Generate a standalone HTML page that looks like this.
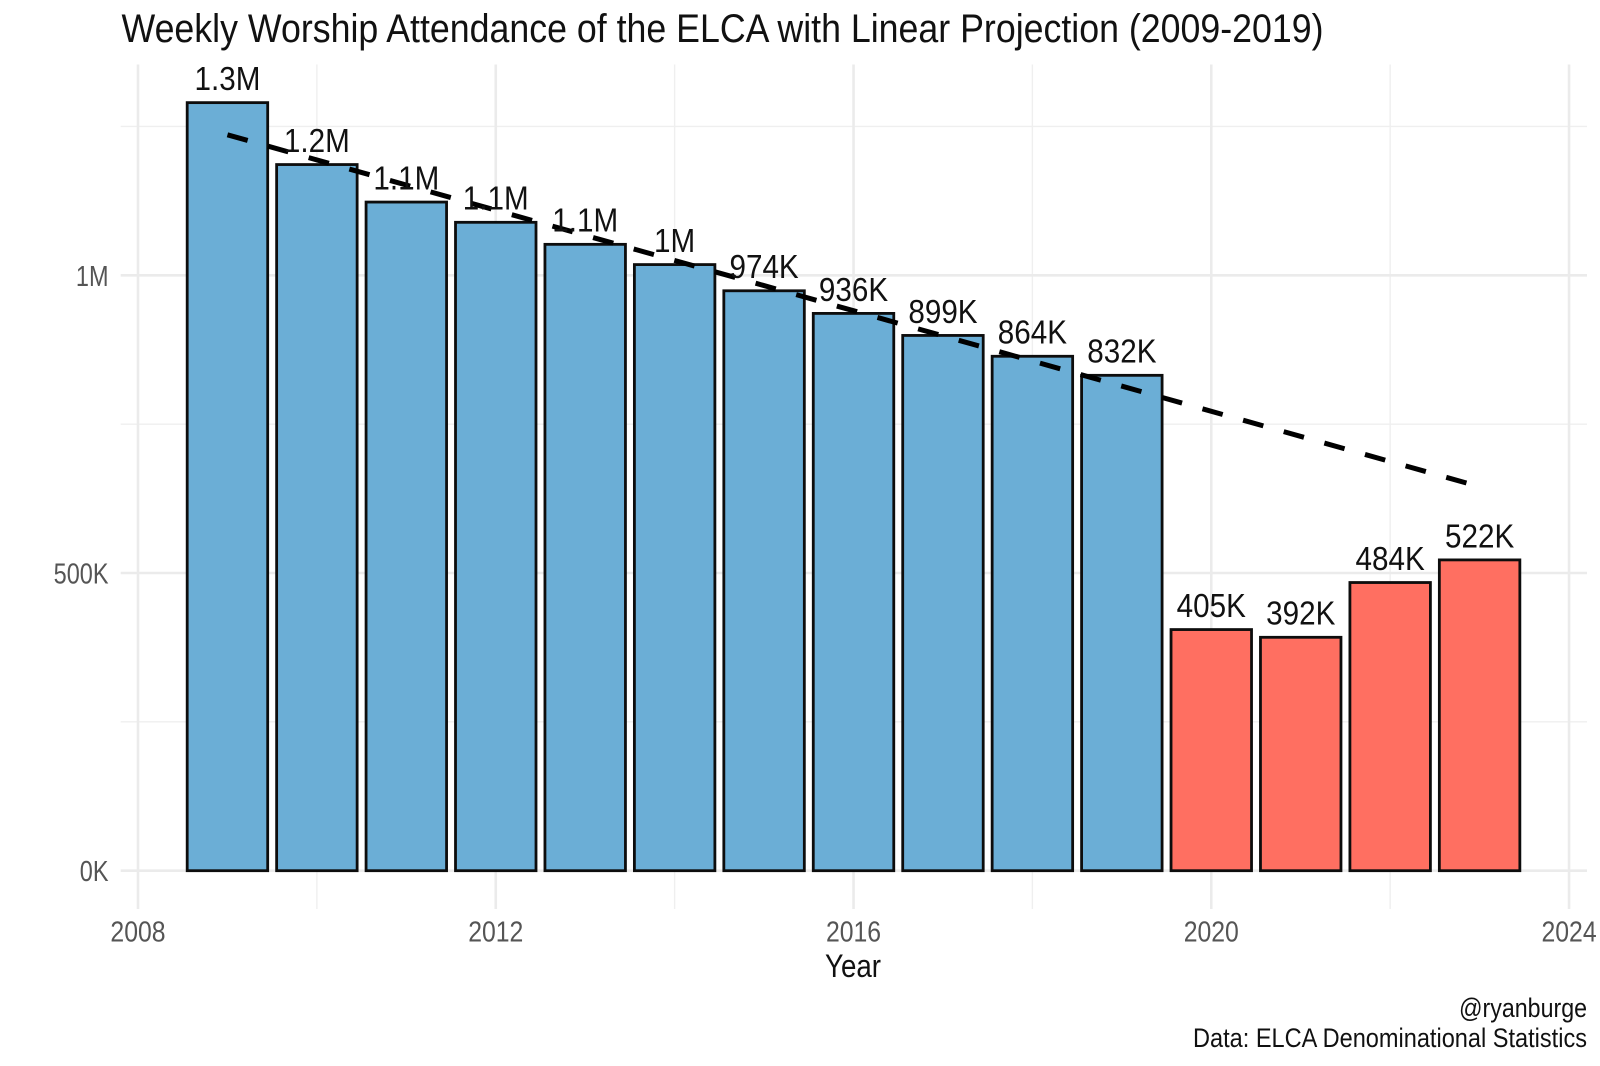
<!DOCTYPE html>
<html lang="en">
<head>
<meta charset="utf-8">
<title>Weekly Worship Attendance of the ELCA</title>
<style>
html,body{margin:0;padding:0;background:#fff;width:1600px;height:1066px;overflow:hidden}
svg{display:block}
text{font-family:"Liberation Sans",sans-serif}
</style>
</head>
<body>
<svg id="chart" width="1600" height="1066" viewBox="0 0 1600 1066" xmlns="http://www.w3.org/2000/svg">
  <rect x="0" y="0" width="1600" height="1066" fill="#ffffff"/>
  <g id="grid"></g>
  <g id="bars"></g>
  <g id="trend"></g>
  <g id="labels"></g>
  <g id="xticks"></g>
  <g id="yticks"></g>
  <text x="121.5" y="42" font-size="40" fill="#111" textLength="1202" lengthAdjust="spacingAndGlyphs">Weekly Worship Attendance of the ELCA with Linear Projection (2009-2019)</text>
  <text x="853" y="977" font-size="32" fill="#111" text-anchor="middle" textLength="56" lengthAdjust="spacingAndGlyphs">Year</text>
  <text x="1587" y="1017" font-size="26.5" fill="#111" text-anchor="end" textLength="128" lengthAdjust="spacingAndGlyphs">@ryanburge</text>
  <text x="1587" y="1047" font-size="26.5" fill="#111" text-anchor="end" textLength="394" lengthAdjust="spacingAndGlyphs">Data: ELCA Denominational Statistics</text>
</svg>
<script>
const years = [2009,2010,2011,2012,2013,2014,2015,2016,2017,2018,2019,2020,2021,2022,2023];
const attendance = [1290000,1186000,1123000,1089000,1052000,1018000,974000,936000,899000,864000,832000,405000,392000,484000,522000];
const valueLabels = ["1.3M","1.2M","1.1M","1.1M","1.1M","1M","974K","936K","899K","864K","832K","405K","392K","484K","522K"];
const projectionYears = [2009,2023];
const projectionValues = [1236000,645000];
const xTickValues = [2008,2012,2016,2020,2024];
const xMinorValues = [2010,2014,2018,2022];
const yTickValues = [0,500000,1000000];
const yTickLabels = ["0K","500K","1M"];
const yMinorValues = [250000,750000,1250000];

const NS = "http://www.w3.org/2000/svg";
function xScale(year){ return 138 + (year - 2008) * 89.44; }
function yScale(value){ return 870.7 - value * 595.4 / 1000000; }
function make(tag, attrs, parent){
  const el = document.createElementNS(NS, tag);
  for (const k in attrs) el.setAttribute(k, attrs[k]);
  parent.appendChild(el);
  return el;
}
const grid = document.getElementById("grid");
const barsG = document.getElementById("bars");
const trendG = document.getElementById("trend");
const labelsG = document.getElementById("labels");
const xticksG = document.getElementById("xticks");
const yticksG = document.getElementById("yticks");
const PANEL = {left:120.7, right:1587, top:64.5, bottom:909};

yMinorValues.forEach(function(v){
  const el = make("line",{x1:PANEL.left,x2:PANEL.right,y1:yScale(v),y2:yScale(v),stroke:"#efefef","stroke-width":1.4},grid);
  
  
});
xMinorValues.forEach(function(v){
  const el = make("line",{x1:xScale(v),x2:xScale(v),y1:PANEL.top,y2:PANEL.bottom,stroke:"#efefef","stroke-width":1.4},grid);
  
  
});
yTickValues.forEach(function(v){
  const el = make("line",{x1:PANEL.left,x2:PANEL.right,y1:yScale(v),y2:yScale(v),stroke:"#ebebeb","stroke-width":2.6},grid);
  
  
});
xTickValues.forEach(function(v){
  const el = make("line",{x1:xScale(v),x2:xScale(v),y1:PANEL.top,y2:PANEL.bottom,stroke:"#ebebeb","stroke-width":2.6},grid);
  
  
});

const BAR_WIDTH = 80.5;
years.forEach(function(yr,i){
  const top = yScale(attendance[i]);
  const el = make("rect",{x:xScale(yr)-BAR_WIDTH/2,y:top,width:BAR_WIDTH,height:yScale(0)-top,
    fill: yr >= 2020 ? "#FF6F61" : "#6BAED6", stroke:"#0d0d0d","stroke-width":2.8},barsG);
  
  
});

const trendLine = make("line",{
  x1:xScale(projectionYears[0]),y1:yScale(projectionValues[0]),
  x2:xScale(projectionYears[1]),y2:yScale(projectionValues[1]),
  stroke:"#000","stroke-width":5,"stroke-dasharray":"21 21.2"},trendG);



years.forEach(function(yr,i){
  const x = xScale(yr), y = yScale(attendance[i]) - 12.6;
  const el = make("text",{"text-anchor":"middle","font-size":33.5,fill:"#111",
    transform:"translate("+x+","+y+") scale(0.885,1)"},labelsG);
  el.textContent = valueLabels[i];
  
  
});

xTickValues.forEach(function(v){
  const el = make("text",{"text-anchor":"middle","font-size":29,fill:"#555",
    transform:"translate("+xScale(v)+",941.7) scale(0.855,1)"},xticksG);
  el.textContent = String(v);
  
  
});
yTickValues.forEach(function(v,i){
  const el = make("text",{"text-anchor":"end","font-size":29,fill:"#555",
    transform:"translate(108.5,"+(yScale(v)+10.5)+") scale(0.81,1)"},yticksG);
  el.textContent = yTickLabels[i];
  
  
});
</script>
</body>
</html>
